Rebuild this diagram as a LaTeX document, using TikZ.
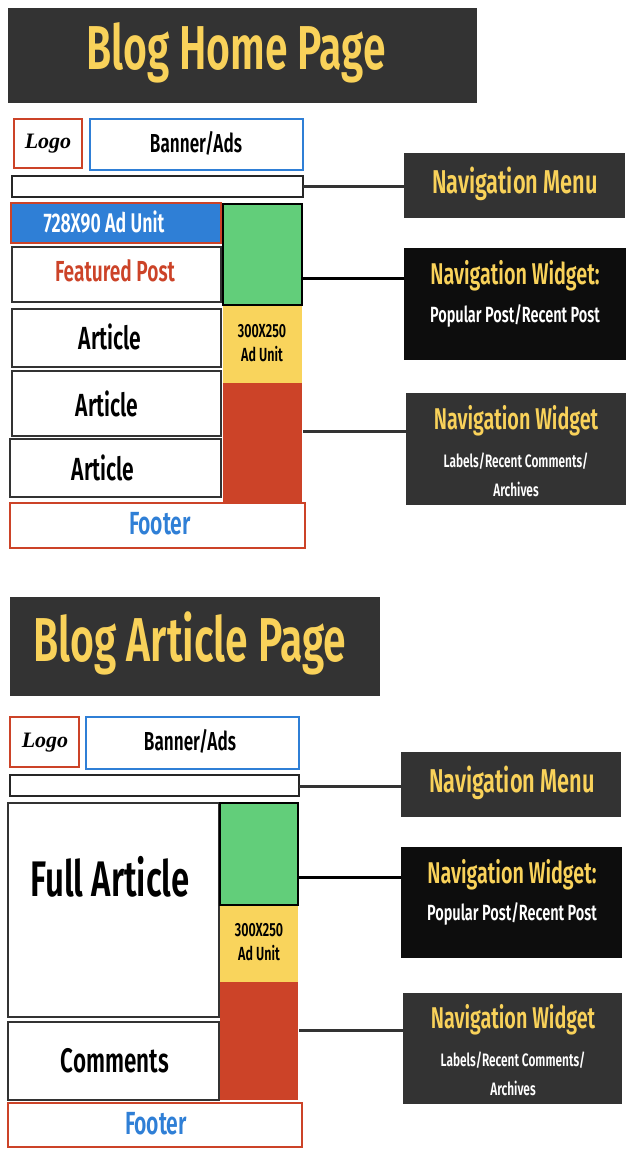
\documentclass[tikz,border=0pt]{standalone}
\usepackage{fontspec}
\setmainfont{Fira Sans}
\newfontfamily\cond[FakeStretch=0.66]{Fira Sans SemiBold}
\definecolor{dk}{HTML}{333333}
\definecolor{yl}{HTML}{F9D25A}
\definecolor{rd}{HTML}{CC4328}
\definecolor{bl}{HTML}{2F7FD6}
\definecolor{gr}{HTML}{62CE7A}
\definecolor{yw}{HTML}{F9D45C}
\begin{document}
\begin{tikzpicture}[x=1pt,y=-1pt,
 box/.style={draw=#1,line width=2.5pt,fill=white},
 lnk/.style={draw=dk,line width=3pt},
 t/.style={font=\cond #1},
]
\useasboundingbox (0,0) rectangle (640,1157);
% ---------- HOME ----------
\fill[dk] (8,8) rectangle (477,103);
\node[t=\fontsize{62}{62}\selectfont,text=yl] (t1) at (236,53) {Blog Home Page};
\draw[box=rd] (14,119) rectangle (82,168);
\node (lg1) at (48,144) {\fontsize{22}{22}\selectfont\fontspec{Liberation Serif}\itshape\bfseries Logo};
\draw[box=bl] (90,119) rectangle (303,170);
\node[t=\fontsize{26}{26}\selectfont] (b1) at (196,143) {Banner/Ads};
\draw[box=black!85] (12,176) rectangle (303,197);
\coordinate (nv1) at (303,186);
\fill[bl] (11,203) rectangle (221,243);
\draw[rd,line width=2pt] (11,203) rectangle (221,243);
\node[t=\fontsize{27}{27}\selectfont,text=white] (ad1) at (104,222) {728X90 Ad Unit};
\draw[box=dk] (12,247) rectangle (221,302);
\node[t=\fontsize{29}{29}\selectfont,text=rd] (fp) at (115,271) {Featured Post};
\draw[box=dk,line width=2pt] (12,309) rectangle (221,367);
\node[t=\fontsize{32}{32}\selectfont] (a1) at (110,337) {Article};
\draw[box=dk,line width=2pt] (12,371) rectangle (221,436);
\node[t=\fontsize{32}{32}\selectfont] (a2) at (107,404) {Article};
\draw[box=dk,line width=2pt] (10,439) rectangle (221,497);
\node[t=\fontsize{32}{32}\selectfont] (a3) at (103,468) {Article};
\fill[rd] (223,383) rectangle (302,503);
\fill[yw] (223,305) rectangle (302,383);
\fill[gr] (223,204) rectangle (302,305);
\draw[black,line width=2.5pt] (223,204) rectangle (302,305);
\node[t=\fontsize{19}{24}\selectfont,align=center] (y1) at (262,343) {300X250\\Ad Unit};
\coordinate (g1) at (303,278);
\coordinate (r1) at (303,431);
\draw[box=rd] (10,503) rectangle (305,548);
\node[t=\fontsize{32}{32}\selectfont,text=bl] (f1) at (160,524) {Footer};
\fill[dk] (404,153) rectangle (625,218);
\node[t=\fontsize{33}{33}\selectfont,text=yl] (m1) at (515,184) {Navigation Menu};
\fill[black!95] (404,248) rectangle (626,360);
\node[t=\fontsize{30}{30}\selectfont,text=yl] (w1) at (515,276) {Navigation Widget:};
\node[t=\fontsize{22}{22}\selectfont,text=white!90] (w1b) at (515,316) {Popular Post/Recent Post};
\fill[dk] (406,393) rectangle (626,505);
\node[t=\fontsize{30}{30}\selectfont,text=yl] (x1) at (516,421) {Navigation Widget};
\node[t=\fontsize{18}{29}\selectfont,text=white!80,align=center] (x1b) at (516,475) {Labels/Recent Comments/\\Archives};
\draw[lnk] (nv1) -- (404,186);
\draw[lnk,draw=black] (g1) -- (404,278);
\draw[lnk] (r1) -- (406,431);
% ---------- ARTICLE ----------
\fill[dk] (10,597) rectangle (380,696);
\node[t=\fontsize{62}{62}\selectfont,text=yl] (t2) at (190,643) {Blog Article Page};
\draw[box=rd] (10,717) rectangle (79,767);
\node (lg2) at (45,743) {\fontsize{22}{22}\selectfont\fontspec{Liberation Serif}\itshape\bfseries Logo};
\draw[box=bl] (86,717) rectangle (299,769);
\node[t=\fontsize{26}{26}\selectfont] (b2) at (190,741) {Banner/Ads};
\draw[box=black!85] (10,775) rectangle (299,796);
\coordinate (nv2) at (299,786);
\draw[box=dk] (8,803) rectangle (219,1017);
\node[t=\fontsize{50}{50}\selectfont] (fa) at (110,877) {Full Article};
\draw[box=dk] (8,1022) rectangle (219,1100);
\node[t=\fontsize{34}{34}\selectfont] (cm) at (115,1061) {Comments};
\fill[rd] (220,982) rectangle (298,1100);
\fill[yw] (220,905) rectangle (298,982);
\fill[gr] (220,803) rectangle (298,905);
\draw[black,line width=2.5pt] (220,803) rectangle (298,905);
\node[t=\fontsize{19}{24}\selectfont,align=center] (y2) at (259,942) {300X250\\Ad Unit};
\coordinate (g2) at (299,877);
\coordinate (r2) at (299,1030);
\draw[box=rd] (8,1103) rectangle (302,1147);
\node[t=\fontsize{32}{32}\selectfont,text=bl] (f2) at (156,1124) {Footer};
\fill[dk] (401,752) rectangle (621,817);
\node[t=\fontsize{33}{33}\selectfont,text=yl] (m2) at (512,783) {Navigation Menu};
\fill[black!95] (401,847) rectangle (622,958);
\node[t=\fontsize{30}{30}\selectfont,text=yl] (w2) at (512,875) {Navigation Widget:};
\node[t=\fontsize{22}{22}\selectfont,text=white!90] (w2b) at (512,914) {Popular Post/Recent Post};
\fill[dk] (403,993) rectangle (622,1104);
\node[t=\fontsize{30}{30}\selectfont,text=yl] (x2) at (513,1020) {Navigation Widget};
\node[t=\fontsize{18}{29}\selectfont,text=white!80,align=center] (x2b) at (513,1074) {Labels/Recent Comments/\\Archives};
\draw[lnk] (nv2) -- (401,786);
\draw[lnk,draw=black] (g2) -- (401,877);
\draw[lnk] (r2) -- (403,1030);
\end{tikzpicture}
\end{document}
